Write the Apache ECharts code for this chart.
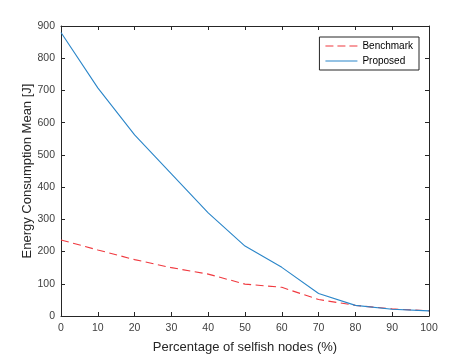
<!DOCTYPE html>
<html><head><meta charset="utf-8">
<script src="https://cdn.jsdelivr.net/npm/echarts@6/dist/echarts.min.js"></script>
<style>html,body{margin:0;padding:0;background:#fff}#c{width:474px;height:355px}</style>
</head><body><div id="c"></div>
<script>
const categories = [0,10,20,30,40,50,60,70,80,90,100];
const benchmark = [236,205,175,150,130,99,89,51,33,22,16];
const proposed = [880,708,562,441,320,217,151,70,33,21,16];
const xTicks = [0,10,20,30,40,50,60,70,80,90,100];
const yTicks = [0,100,200,300,400,500,600,700,800,900];

const chart = echarts.init(document.getElementById('c'));
const font = 'Liberation Sans, Arial, sans-serif';
const axCol = '#262626';
const redCol = '#f0393f';
const blueCol = '#2b86c9';
const baseAxis = {
  axisLine:{show:true,onZero:false,lineStyle:{color:axCol,width:1}},
  axisTick:{show:true,inside:true,length:4,lineStyle:{color:axCol}},
  splitLine:{show:false}
};
chart.setOption({
  animation:false,
  grid:{left:61,right:45,top:26,bottom:39,outerBoundsMode:'none',containLabel:false},
  legend:{
    data:[
      {name:'Benchmark',icon:'path://M0,0h8v1h-8z M12,0h8v1h-8z M24,0h8v1h-8z'},
      {name:'Proposed',icon:'path://M0,0h32v1h-32z'}
    ],
    orient:'vertical', right:55, top:37,
    itemWidth:32, itemHeight:1.5, itemGap:3,
    borderColor:axCol, borderWidth:1, borderRadius:0,
    padding:[3,6,3,6], backgroundColor:'#fff',
    textStyle:{fontFamily:font,fontSize:10,color:'#000',lineHeight:12,padding:[0,0,0,0]}
  },
  xAxis:[
    Object.assign({}, baseAxis, {type:'value',min:0,max:100,interval:10,position:'bottom',
      name:'Percentage of selfish nodes (%)',nameLocation:'middle',nameGap:25,nameMoveOverlap:false,
      nameTextStyle:{fontFamily:font,fontSize:13,color:axCol},
      axisLabel:{fontFamily:font,fontSize:10.5,color:'#404040',margin:7,
        formatter:v=>xTicks.includes(v)?String(v):''}}),
    Object.assign({}, baseAxis, {type:'value',min:0,max:100,interval:10,position:'top',axisLabel:{show:false}})
  ],
  yAxis:[
    Object.assign({}, baseAxis, {type:'value',min:0,max:900,interval:100,position:'left',
      name:'Energy Consumption Mean [J]',nameLocation:'middle',nameGap:27,nameMoveOverlap:false,
      nameTextStyle:{fontFamily:font,fontSize:13,color:axCol},
      axisLabel:{fontFamily:font,fontSize:10.5,color:'#404040',margin:6,
        formatter:v=>yTicks.includes(v)?String(v):''}}),
    Object.assign({}, baseAxis, {type:'value',min:0,max:900,interval:100,position:'right',axisLabel:{show:false}})
  ],
  series:[
    {name:'Benchmark',type:'line',xAxisIndex:0,yAxisIndex:0,symbol:'none',
      data:categories.map((c,i)=>[c,benchmark[i]]),
      itemStyle:{color:redCol},
      lineStyle:{color:redCol,width:1.1,type:[8,4.5]}},
    {name:'Proposed',type:'line',xAxisIndex:0,yAxisIndex:0,symbol:'none',
      data:categories.map((c,i)=>[c,proposed[i]]),
      itemStyle:{color:blueCol},
      lineStyle:{color:blueCol,width:1.1}}
  ]
});
</script></body></html>
